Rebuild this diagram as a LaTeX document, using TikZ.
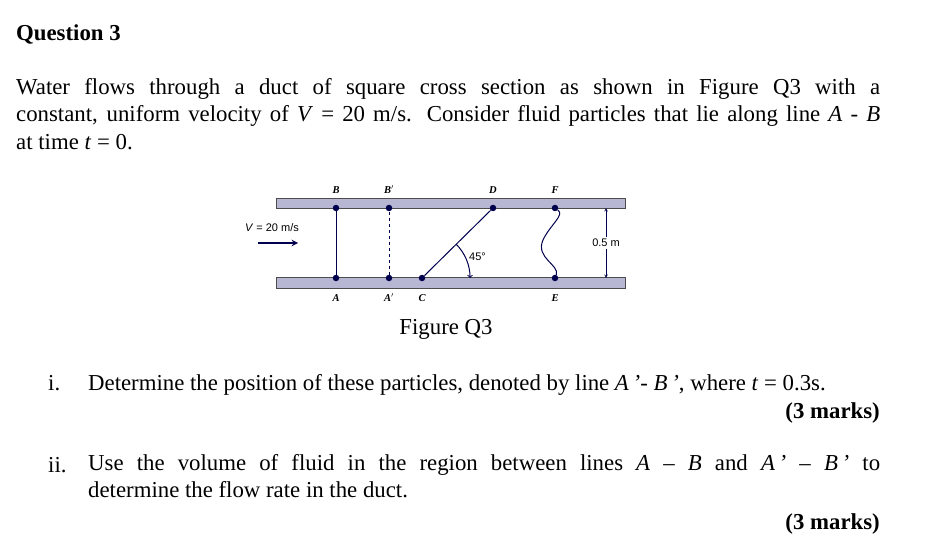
\documentclass[tikz,border=0pt]{standalone}
\usepackage{fontspec}
\setmainfont{Liberation Serif}
\setsansfont{Liberation Sans}
\begin{document}
\begin{tikzpicture}[x=1pt,y=-1pt,
  body/.style={font=\fontsize{22.8}{27.5}\selectfont,inner sep=0pt},
  bar/.style={draw=black!70,fill=blue!25!gray!45,line width=0.8pt},
  dot/.style={circle,fill=blue!30!black,inner sep=0pt,minimum size=6.5pt},
  lbl/.style={font=\fontsize{10.5}{11}\selectfont\bfseries\itshape,inner sep=0pt},
  sml/.style={font=\sffamily\fontsize{11}{12}\selectfont,inner sep=0pt},
  ln/.style={draw=blue!30!black,line width=1pt}]
\useasboundingbox (0,0) rectangle (925,553);
\node[body,anchor=base west,font=\fontsize{22.8}{28}\selectfont\bfseries] (q) at (16,41) {Question 3};
\node[body,anchor=north west,text width=864pt,align=justify] (p) at (16,78)
 {Water flows through a duct of square cross section as shown in Figure Q3 with a\linebreak constant, uniform velocity of \textit{V} = 20 m/s. Consider fluid particles that lie along line \textit{A} - \textit{B}\linebreak at time \textit{t} = 0.};
% figure
\node[bar,minimum width=349pt,minimum height=10pt,inner sep=0pt] (tb) at (450.5,203) {};
\node[bar,minimum width=349pt,minimum height=11pt,inner sep=0pt] (bb) at (450.5,282.5) {};
\node[dot] (B) at (336,208) {}; \node[dot] (A) at (336,278) {};
\node[dot] (Bp) at (389,208) {}; \node[dot] (Ap) at (389,278) {};
\node[dot] (C) at (422,278) {}; \node[dot] (D) at (493,208) {};
\node[dot] (F) at (555,208) {}; \node[dot] (E) at (555,278) {};
\draw[ln] (A) -- (B);
\draw[ln,dashed] (Ap) -- (Bp);
\draw[ln] (C) -- (D);
\draw[ln] (F) .. controls (565,215) and (550,225) .. (543,240) .. controls (535,258) and (560,265) .. (E);
\coordinate (as) at (456,244);
\draw[ln,->] (as) arc (-45:0:48);
\node[sml,anchor=west] (ang) at (469,257) {45°};
\coordinate (dt) at (606,208); \coordinate (db) at (606,278);
\node[sml,fill=white,inner sep=1.5pt] (dim) at (606,243) {0.5 m};
\draw[ln,line width=0.6pt,-stealth] (dim) -- (dt);
\draw[ln,line width=0.6pt,-stealth] (dim) -- (db);
\node[sml] (v) at (272,228) {\textit{V} = 20 m/s};
\coordinate (va) at (258,243); \coordinate (vb) at (298,243);
\draw[ln,line width=1.8pt,-stealth] (va) -- (vb);
\node[lbl] at (336,190) {B}; \node[lbl] at (389,190) {B$'$};
\node[lbl] at (493,190) {D}; \node[lbl] at (555,190) {F};
\node[lbl] at (336,298) {A}; \node[lbl] at (389,298) {A$'$};
\node[lbl] at (422,298) {C}; \node[lbl] at (555,298) {E};
\node[body,anchor=base] (cap) at (446,334) {Figure Q3};
% items
\node[body,anchor=base west] (i1) at (48,390) {i.};
\node[body,anchor=base west] (t1) at (88,390) {Determine the position of these particles, denoted by line \textit{A\,'}- \textit{B\,'}, where \textit{t} = 0.3s.};
\node[body,anchor=base east,font=\fontsize{22.8}{28}\selectfont\bfseries] (m1) at (880,418) {(3 marks)};
\node[body,anchor=base west] (i2) at (48,472) {ii.};
\node[body,anchor=north west,text width=792pt,align=justify] (t2) at (88,454) {Use the volume of fluid in the region between lines \textit{A} -- \textit{B} and \textit{A\,'} -- \textit{B\,'} to\linebreak determine the flow rate in the duct.};
\node[body,anchor=base east,font=\fontsize{22.8}{28}\selectfont\bfseries] (m2) at (880,529) {(3 marks)};
\end{tikzpicture}
\end{document}
